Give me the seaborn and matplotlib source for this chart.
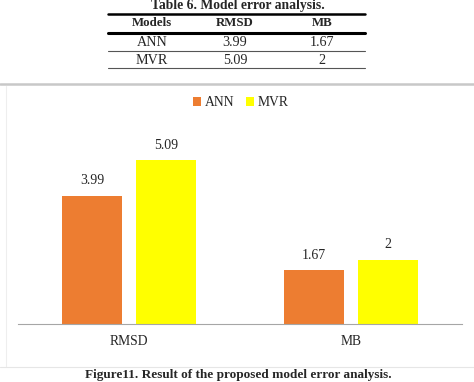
import numpy as np
import pandas as pd
import seaborn as sns
import matplotlib
matplotlib.use("Agg")
import matplotlib.pyplot as plt
from matplotlib.lines import Line2D

# data
models = ["ANN", "MVR"]
metrics = ["RMSD", "MB"]
ann_vals = [3.99, 1.67]
mvr_vals = [5.09, 2]
table_header = ["Models", "RMSD", "MB"]
table_rows = [["ANN", "3.99", "1.67"], ["MVR", "5.09", "2"]]
colors = ["#ED7D31", "#FFFF00"]

sns.set_style("white")
plt.rcParams['font.family'] = ['Liberation Serif', 'DejaVu Serif']

W, H = 474, 382
fig = plt.figure(figsize=(W / 100, H / 100), dpi=100)


def fx(px):
    return px / W


def fy(py):
    return 1 - py / H


# table on top
fig.text(fx(238), fy(6), "Table 6. Model error analysis.", ha="center", va="center",
         fontsize=9.8, fontweight="bold")
col_x = [152, 235, 322]
for cx, h in zip(col_x, table_header):
    fig.text(fx(cx), fy(23), h, ha="center", va="center", fontsize=9.3, fontweight="bold")
for ry, row in zip([43, 60], table_rows):
    for cx, v in zip(col_x, row):
        fig.text(fx(cx), fy(ry), v, ha="center", va="center", fontsize=10.2)
for ly, lw, c in [(13.5, 1.8, "black"), (33, 2.2, "black"), (51, 0.8, "#555555"), (68, 0.8, "#555555")]:
    fig.add_artist(Line2D([fx(108), fx(365)], [fy(ly), fy(ly)], color=c, lw=lw))

# chart frame (faint)
fig.add_artist(Line2D([0, 1], [fy(84), fy(84)], color="#c8c8c8", lw=1.8))
fig.add_artist(Line2D([fx(6), fx(6)], [fy(86), fy(366)], color="#eeeeee", lw=0.8))
fig.add_artist(Line2D([0, 1], [fy(367), fy(367)], color="#e6e6e6", lw=0.8))

# bars
df = pd.DataFrame({
    "Metric": metrics * 2,
    "Value": ann_vals + mvr_vals,
    "Model": [models[0]] * 2 + [models[1]] * 2,
})

ax = fig.add_axes([fx(18), fy(324), fx(462) - fx(18), fy(131) - fy(324)])
sns.barplot(data=df, x="Metric", y="Value", hue="Model", palette=colors,
            width=0.667, gap=0.19, ax=ax, saturation=1, edgecolor="none")
ax.set_ylim(0, 6)
ax.set_xlim(-0.5, 1.5)
for cont in ax.containers:
    ax.bar_label(cont, fmt="{:g}", padding=6, fontsize=10)

for s in ["top", "left", "right"]:
    ax.spines[s].set_visible(False)
ax.spines["bottom"].set_color("#a6a6a6")
ax.spines["bottom"].set_linewidth(0.8)
ax.set_yticks([])
ax.set_xlabel("")
ax.set_ylabel("")
ax.tick_params(axis="x", length=0, pad=8, labelsize=9.8)

ax.legend(loc="center", bbox_to_anchor=(fx(241), fy(103)), bbox_transform=fig.transFigure,
          ncol=2, frameon=False, fontsize=9.8, handlelength=0.6, handleheight=0.6,
          handletextpad=0.3, columnspacing=0.8)

fig.text(fx(238), fy(375), "Figure11. Result of the proposed model error analysis.",
         ha="center", va="center", fontsize=9.5, fontweight="bold")

fig.savefig("out.png", dpi=100)
